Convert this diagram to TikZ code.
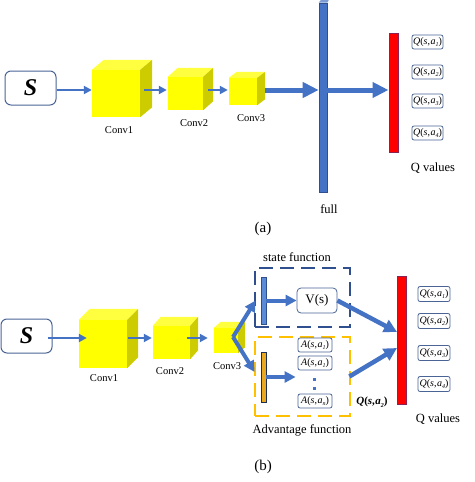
\documentclass[tikz,border=0pt]{standalone}
\usepackage{fontspec}
\setmainfont{Liberation Serif}
\usetikzlibrary{arrows.meta,calc}
\definecolor{arrblue}{HTML}{4472C4}
\definecolor{darkblue}{HTML}{2F4F8F}
\definecolor{cubefront}{HTML}{FFFF00}
\definecolor{cubetopc}{HTML}{FFFF40}
\definecolor{cubesidec}{HTML}{CCCC00}
\definecolor{boxline}{HTML}{4A6496}
\definecolor{redbar}{HTML}{FF0000}
\definecolor{redline}{HTML}{8B2252}
\definecolor{orangec}{HTML}{FFC000}
\definecolor{orangebar}{HTML}{E8A820}
\definecolor{lightbar}{HTML}{5B8BD6}
\newcommand\fnq[3]{\textit{#1}(\textit{s},\kern0.5pt\textit{a}\raisebox{-0.25em}{\fontsize{6}{6}\selectfont\textit{#2}})#3}
\tikzset{
  sbox/.style={draw=boxline,line width=1pt,rounded corners=6pt,fill=white,minimum width=51,minimum height=34,inner sep=0pt,font=\fontsize{24}{24}\selectfont\bfseries\itshape},
  cubefr/.style={fill=cubefront,inner sep=0pt},
  cubetop/.style={fill=cubetopc},
  cubeside/.style={fill=cubesidec},
  lbl/.style={font=\fontsize{10.5}{10.5}\selectfont,inner sep=0pt},
  biglbl/.style={font=\fontsize{12.5}{12.5}\selectfont,inner sep=0pt},
  qbox/.style={draw=boxline,line width=0.8pt,rounded corners=2pt,fill=white,minimum width=31,minimum height=14,inner sep=0pt,font=\fontsize{10}{10}\selectfont},
  thinarr/.style={draw=arrblue,line width=2.2pt,-{Triangle[length=8pt,width=8pt]}},
  thickarr/.style={draw=arrblue,line width=5pt,-{Triangle[length=16pt,width=15pt]}},
  midarr/.style={draw=arrblue,line width=4pt,-{Triangle[length=11pt,width=11pt]}},
  bluebar/.style={fill=arrblue,draw=darkblue,line width=0.6pt,inner sep=0pt},
  rbar/.style={fill=redbar,draw=redline,line width=1pt,inner sep=0pt},
  dashbox/.style={line width=2.8pt,dash pattern=on 14pt off 7pt,minimum width=95,inner sep=0pt},
}
\newcommand\cubefaces[3]{%
  \fill[cubetop] (#1.north west) -- (#1.north east) -- ++(#2,-#3) -- ($(#1.north west)+(#2,-#3)$) -- cycle;
  \fill[cubeside] (#1.north east) -- ++(#2,-#3) -- ($(#1.south east)+(#2,-#3)$) -- (#1.south east) -- cycle;}
\begin{document}
\begin{tikzpicture}[x=1pt,y=-1pt]
\useasboundingbox (0,0) rectangle (474,482);
% ================= (a) =================
\coordinate (la) at (0,90);
\node[sbox] (sa) at (30.5,88) {S};
\node[cubefr,minimum width=48,minimum height=47] (c1a) at (116,93.5) {};
\cubefaces{c1a}{12}{10}
\node[cubefr,minimum width=35,minimum height=33] (c2a) at (185.5,93.5) {};
\cubefaces{c2a}{10}{9}
\node[cubefr,minimum width=28,minimum height=27] (c3a) at (243,91.5) {};
\cubefaces{c3a}{8}{6}
\node[lbl] (t1a) at (119,130) {Conv1};
\node[lbl] (t2a) at (194,123) {Conv2};
\node[lbl] (t3a) at (251,118) {Conv3};
% full bar
\node[bluebar,minimum width=8,minimum height=189] (fulla) at (323,97.5) {};
\fill[arrblue!70!white] (fulla.north west) -- ++(2,-2.5) -- ++(8,0) -- (fulla.north east) -- cycle;
\node[biglbl] (fulllbl) at (329,209) {full};
% red bar
\node[rbar,minimum width=9,minimum height=119] (reda) at (393.5,92.5) {};
\node[qbox] (qa1) at (427.5,42) {\fnq{Q}{1}{}};
\node[qbox] (qa2) at (427.5,72) {\fnq{Q}{2}{}};
\node[qbox] (qa3) at (427.5,101) {\fnq{Q}{3}{}};
\node[qbox] (qa4) at (427.5,133) {\fnq{Q}{4}{}};
\node[biglbl] (qva) at (433,168) {Q values};
\node[font=\fontsize{15}{15}\selectfont,inner sep=0pt] (capa) at (263,229) {(a)};
% arrows (a)
\draw[thinarr] (sa.east |- la) -- (c1a.west |- la);
\draw[thinarr] ($(c1a.east |- la)+(4,0)$) -- ($(c2a.west |- la)+(-1,0)$);
\draw[thinarr] ($(c2a.east |- la)+(5,0)$) -- ($(c3a.west |- la)+(-1,0)$);
\draw[thickarr] ($(c3a.east |- la)+(8,0)$) -- (fulla.west |- la);
\draw[thickarr] (fulla.east |- la) -- (reda.west |- la);
% ================= (b) =================
\coordinate (lb) at (0,338);
\node[sbox] (sb) at (26.5,336) {S};
\node[cubefr,minimum width=48,minimum height=48] (c1b) at (103,344) {};
\cubefaces{c1b}{11}{11}
\node[cubefr,minimum width=37,minimum height=33] (c2b) at (171.5,342.5) {};
\cubefaces{c2b}{8}{9}
\node[cubefr,minimum width=24,minimum height=25] (c3b) at (226,340.5) {};
\cubefaces{c3b}{7}{6}
\node[lbl] (t1b) at (104,378) {Conv1};
\node[lbl] (t2b) at (170,371) {Conv2};
\node[lbl] (t3b) at (227,366) {Conv3};
% state function box
\node[dashbox,draw=darkblue,minimum height=59] (stb) at (302.5,297.5) {};
\node[biglbl] (stlbl) at (297,257) {state function};
\node[fill=lightbar,draw=darkblue,line width=0.8pt,inner sep=0pt,minimum width=5,minimum height=47] (sbar) at (263.5,300.5) {};
\node[draw=boxline,line width=0.8pt,rounded corners=4pt,fill=white,minimum width=40,minimum height=25,inner sep=0pt,font=\fontsize{13}{13}\selectfont] (vs) at (317,300.5) {V(s)};
% advantage box
\node[dashbox,draw=orangec,minimum height=79] (advb) at (302.5,376.5) {};
\node[biglbl] (advlbl) at (302,430) {Advantage function};
\node[fill=orangebar,draw=darkblue!60!black,line width=0.8pt,inner sep=0pt,minimum width=5,minimum height=50] (abar) at (263.5,377) {};
\node[qbox,minimum width=34] (a1) at (315,345) {\fnq{A}{1}{}};
\node[qbox,minimum width=34] (a2) at (315,363) {\fnq{A}{1}{}};
\node[qbox,minimum width=34] (an) at (315,401) {\fnq{A}{n}{}};
\fill[arrblue] (312.5,377.5) rectangle (315.5,380.5);
\fill[arrblue] (312.5,387) rectangle (315.5,390);
% red bar (b)
\node[rbar,minimum width=9,minimum height=128] (redb) at (402,340) {};
\node[qbox,minimum width=32,minimum height=15] (qb1) at (434,294) {\fnq{Q}{1}{}};
\node[qbox,minimum width=32,minimum height=15] (qb2) at (434,321) {\fnq{Q}{2}{}};
\node[qbox,minimum width=32,minimum height=15] (qb3) at (434,353) {\fnq{Q}{3}{}};
\node[qbox,minimum width=32,minimum height=15] (qb4) at (434,384) {\fnq{Q}{4}{}};
\node[biglbl] (qvb) at (438,419) {Q values};
\node[inner sep=0pt,font=\fontsize{11}{11}\selectfont\bfseries] (qa2lbl) at (372,402) {\fnq{Q}{2}{}};
\node[font=\fontsize{15}{15}\selectfont,inner sep=0pt] (capb) at (263,467) {(b)};
% arrows (b)
\coordinate (br) at (233,337);
\draw[thinarr] ($(sb.east |- lb)+(-5,0)$) -- ($(c1b.west |- lb)+(8,0)$);
\draw[thinarr] ($(c1b.east |- lb)+(1,0)$) -- ($(c2b.west |- lb)+(-1,0)$);
\draw[thinarr] ($(c2b.east |- lb)+(-3,0)$) -- ($(c3b.west |- lb)+(-6,0)$);
\draw[midarr,line join=round] (br) -- ($(sbar.west)+(-5,0)$);
\draw[midarr] (br) -- ($(abar.west)+(-6,-5)$);
\draw[midarr] (sbar.east) -- (vs.west);
\draw[midarr] (abar.east) -- ($(a2.west |- abar.east)+(-2,0)$);
\draw[thickarr,line width=4.5pt,-{Triangle[length=13pt,width=13pt]}] (vs.east) -- ($(redb.west)+(0,-8)$);
\draw[thickarr,line width=4.5pt,-{Triangle[length=13pt,width=13pt]}] ($(advb.east)+(-2,0)$) -- ($(redb.west)+(0,8)$);
\end{tikzpicture}
\end{document}
